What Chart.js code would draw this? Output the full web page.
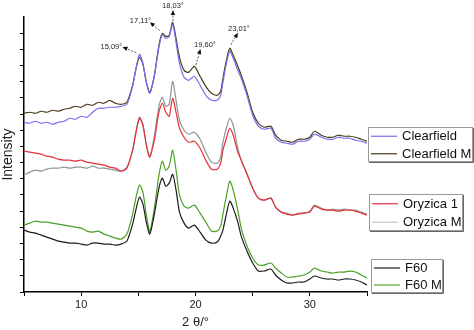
<!DOCTYPE html>
<html>
<head>
<meta charset="utf-8">
<script src="https://cdn.jsdelivr.net/npm/chart.js@4.4.1/dist/chart.umd.min.js"></script>
<style>
  html, body { margin: 0; padding: 0; background: #fff; }
</style>
</head>
<body>
<canvas id="xrd-chart" width="474" height="330"></canvas>
<script>
// 2 theta positions (degrees) the curves were read at
const twoTheta = [5, 5.5, 6, 6.5, 7, 7.5, 8, 8.5, 9, 9.5, 10, 10.5, 11, 11.5, 12, 12.5, 13, 13.5, 14,
    14.5, 14.8, 15.1, 15.4, 15.7, 16, 16.4, 16.8, 17.1, 17.4, 17.7, 18, 18.3, 18.6,
    19, 19.4, 19.9, 20.4, 20.9, 21.4, 21.9, 22.2, 22.4, 22.7, 23, 23.3, 23.7, 24,
    24.5, 25, 25.5, 26, 26.6, 27, 27.5, 28, 28.5, 29, 29.5, 30, 30.4,
    31, 31.5, 32, 32.5, 33, 33.5, 34, 34.5, 35];

// intensities (a.u., curves stacked with offsets as in the figure)
const clearfield = [170, 169, 171, 169, 170, 168, 170, 171, 174, 173, 176, 175, 180, 184, 184, 185, 185, 186, 188,
    206, 224, 238, 229, 210, 199, 216, 245, 258, 254, 256, 268, 250, 229,
    215, 212, 216, 207, 197, 192, 192, 197, 210, 229, 241, 234, 222, 214,
    197, 177, 166, 163, 164, 154, 150, 149, 148, 151, 151, 153, 158,
    155, 153, 153, 155, 154, 154, 152, 151, 149];
const clearfieldM = [179, 180, 179, 181, 180, 182, 181, 183, 184, 186, 185, 188, 187, 190, 189, 192, 189, 188, 190,
    207, 224, 235, 228, 210, 200, 217, 247, 259, 256, 257, 270, 254, 235,
    222, 220, 226, 216, 206, 199, 197, 201, 214, 232, 244, 237, 226, 217,
    200, 180, 169, 165, 166, 157, 152, 151, 150, 153, 153, 155, 161,
    157, 155, 155, 157, 156, 156, 155, 153, 151];
const oryzica1 = [141, 140, 139, 138, 136, 135, 133, 132, 132, 131, 132, 130, 129, 128, 127, 125, 124, 121, 124,
    142, 160, 174, 167, 147, 135, 152, 180, 189, 180, 176, 194, 180, 164,
    155, 150, 151, 144, 132, 123, 123, 129, 142, 154, 164, 157, 140, 132,
    118, 104, 94, 92, 94, 85, 80, 78, 77, 78, 79, 80, 86,
    83, 82, 82, 81, 82, 82, 81, 79, 77];
const oryzicaM = [117, 120, 122, 121, 123, 124, 124, 125, 124, 125, 125, 124, 126, 124, 124, 123, 122, 121, 125,
    142, 161, 175, 168, 148, 136, 156, 186, 195, 186, 188, 211, 192, 172,
    162, 158, 160, 153, 140, 130, 129, 135, 150, 164, 174, 167, 144, 132,
    119, 104, 94, 92, 94, 85, 80, 79, 77, 79, 79, 81, 87,
    84, 82, 83, 82, 83, 82, 82, 80, 78];
const f60 = [62, 60, 59, 57, 55, 53, 51, 50, 49, 49, 48, 47, 49, 49, 48, 48, 47, 48, 51,
    68, 83, 95, 88, 70, 58, 78, 104, 114, 106, 109, 118, 102, 80,
    69, 64, 67, 60, 52, 49, 50, 56, 62, 78, 91, 84, 70, 56,
    41, 29, 21, 21, 23, 17, 12, 9, 9, 10, 10, 13, 16,
    14, 13, 13, 12, 13, 13, 12, 10, 7];
const f60M = [67, 69, 71, 70, 70, 69, 68, 67, 66, 65, 64, 61, 60, 61, 58, 56, 54, 53, 58,
    78, 95, 107, 100, 77, 61, 84, 117, 131, 122, 126, 142, 122, 97,
    86, 84, 87, 79, 70, 61, 61, 66, 78, 96, 111, 102, 82, 64,
    46, 34, 27, 27, 29, 24, 19, 15, 15, 16, 17, 20, 24,
    21, 20, 19, 20, 20, 21, 20, 17, 14];

const seriesNames = ['Clearfield', 'Clearfield M', 'Oryzica 1', 'Oryzica M', 'F60', 'F60 M'];
const seriesValues = [clearfield, clearfieldM, oryzica1, oryzicaM, f60, f60M];
const seriesColors = ['#7b6cf0', '#4a3a14', '#e8303a', '#8c9696', '#1c1c1c', '#4c9e26'];
const legendColors = ['#7b6cf0', '#4a3a14', '#e8303a', '#c4c4c4', '#1c1c1c', '#5aa832'];

const peakAngles = [15.09, 17.11, 18.03, 19.60, 23.01];
const peakLabels = ['15,09°', '17,11°', '18,03°', '19,60°', '23,01°'];
const xTickLabels = [10, 20, 30];
const yTickStep = 16.2;   // unlabelled intensity ticks
const yTickCount = 17;

function valueAt(series, x) {
    for (let i = 1; i < twoTheta.length; i++) {
        if (twoTheta[i] >= x) {
            const t = (x - twoTheta[i - 1]) / (twoTheta[i] - twoTheta[i - 1]);
            return series[i - 1] + t * (series[i] - series[i - 1]);
        }
    }
    return series[series.length - 1];
}

// label offsets and arrow ends, in px, relative to the peak
const peakLayout = [
    { lx: -28, ly: -11, sx: -3, sy: -5, ex: -15, ey: -10 },
    { lx: -22, ly: -13, sx: -3, sy: -3, ex: -11, ey: -10 },
    { lx: 0, ly: -18, sx: 0, sy: -3, ex: 0, ey: -12 },
    { lx: 14, ly: -25, sx: 5, sy: -5, ex: 9, ey: -19 },
    { lx: 9, ly: -20, sx: 1, sy: -4, ex: 7, ey: -14 }
];

const peakPlugin = {
    id: 'peaks',
    afterDatasetsDraw(chart) {
        const { ctx, scales: { x, y } } = chart;
        ctx.save();
        ctx.font = '7.5px "Liberation Sans", Arial, sans-serif';
        ctx.textAlign = 'center';
        ctx.textBaseline = 'middle';
        peakAngles.forEach((deg, i) => {
            const px = x.getPixelForValue(deg);
            const py = y.getPixelForValue(valueAt(clearfieldM, deg));
            const l = peakLayout[i];
            const x0 = px + l.sx, y0 = py + l.sy, x1 = px + l.ex, y1 = py + l.ey;
            ctx.strokeStyle = '#333';
            ctx.lineWidth = 0.8;
            ctx.setLineDash([2, 1.5]);
            ctx.beginPath();
            ctx.moveTo(x0, y0);
            ctx.lineTo(x1, y1);
            ctx.stroke();
            ctx.setLineDash([]);
            const a = Math.atan2(y1 - y0, x1 - x0);
            ctx.fillStyle = '#111';
            ctx.beginPath();
            ctx.moveTo(x1 + Math.cos(a) * 2, y1 + Math.sin(a) * 2);
            ctx.lineTo(x1 - Math.cos(a) * 3 + Math.sin(a) * 2.2, y1 - Math.sin(a) * 3 - Math.cos(a) * 2.2);
            ctx.lineTo(x1 - Math.cos(a) * 3 - Math.sin(a) * 2.2, y1 - Math.sin(a) * 3 + Math.cos(a) * 2.2);
            ctx.closePath();
            ctx.fill();
            ctx.fillStyle = '#222';
            ctx.fillText(peakLabels[i], px + l.lx, py + l.ly);
        });
        ctx.restore();
    }
};

// three separate legend boxes, one per sample pair
const legendBoxes = [
    { items: [0, 1], left: 368, top: 127, width: 105, height: 35 },
    { items: [2, 3], left: 369, top: 194, width: 94, height: 37 },
    { items: [4, 5], left: 371, top: 259, width: 72, height: 34 }
];

const boxLegendPlugin = {
    id: 'boxLegend',
    afterDraw(chart) {
        const ctx = chart.ctx;
        ctx.save();
        legendBoxes.forEach(b => {
            ctx.fillStyle = '#fff';
            ctx.fillRect(b.left, b.top, b.width, b.height);
            ctx.strokeStyle = '#9a9a9a';
            ctx.lineWidth = 1;
            ctx.strokeRect(b.left + 0.5, b.top + 0.5, b.width - 1, b.height - 1);
            ctx.strokeStyle = '#666';
            ctx.beginPath();
            ctx.moveTo(b.left + b.width + 0.5, b.top + 1);
            ctx.lineTo(b.left + b.width + 0.5, b.top + b.height + 0.5);
            ctx.lineTo(b.left + 1, b.top + b.height + 0.5);
            ctx.stroke();
            const rowH = b.height / 2;
            b.items.forEach((idx, r) => {
                const cy = b.top + rowH * (r + 0.5) + 0.5;
                ctx.strokeStyle = legendColors[idx];
                ctx.lineWidth = 1.2;
                ctx.beginPath();
                ctx.moveTo(b.left + 3, cy);
                ctx.lineTo(b.left + 29, cy);
                ctx.stroke();
                ctx.fillStyle = '#111';
                ctx.font = '13px "Liberation Sans", Arial, sans-serif';
                ctx.textBaseline = 'middle';
                ctx.fillText(seriesNames[idx], b.left + 34, cy + 0.5);
            });
        });
        ctx.restore();
    }
};

const datasets = seriesNames.map((name, i) => ({
    label: name,
    data: twoTheta.map((t, k) => ({ x: t, y: seriesValues[i][k] })),
    borderColor: seriesColors[i],
    borderWidth: 1.2,
    pointRadius: 0,
    tension: 0.25,
    fill: false
}));

const ctx = document.getElementById('xrd-chart').getContext('2d');
const xrdChart = new Chart(ctx, {
    type: 'line',
    data: { datasets: datasets },
    options: {
        responsive: false,
        animation: false,
        layout: {
            padding: { left: 0, right: 107, top: 17, bottom: 0 }
        },
        plugins: {
            legend: { display: false },
            tooltip: { enabled: false }
        },
        scales: {
            x: {
                type: 'linear',
                min: 5,
                max: 35,
                afterFit: scale => { scale.height = 38; },
                border: { display: true, color: '#000', width: 1.5 },
                grid: { drawOnChartArea: false, drawTicks: true, tickLength: 4, tickColor: '#000' },
                ticks: {
                    stepSize: 5,
                    autoSkip: false,
                    maxRotation: 0,
                    padding: 2,
                    color: '#222',
                    font: { family: '"Liberation Sans", Arial, sans-serif', size: 11 },
                    callback: v => xTickLabels.includes(v) ? String(v) : ''
                },
                title: {
                    display: true,
                    text: '2 θ/°',
                    color: '#222',
                    padding: { top: 0, bottom: 0 },
                    font: { family: '"Liberation Sans", Arial, sans-serif', size: 13 }
                }
            },
            y: {
                min: 0,
                max: yTickStep * yTickCount,
                afterFit: scale => { scale.width = 24; },
                afterBuildTicks: scale => {
                    scale.ticks = [];
                    for (let i = 0; i < yTickCount; i++) scale.ticks.push({ value: i * yTickStep });
                },
                border: { display: true, color: '#000', width: 1.5 },
                grid: { drawOnChartArea: false, drawTicks: true, tickLength: 4, tickColor: '#000' },
                ticks: { display: false },
                title: {
                    display: true,
                    text: 'Intensity',
                    color: '#222',
                    padding: { top: 0, bottom: 0 },
                    font: { family: '"Liberation Sans", Arial, sans-serif', size: 14 }
                }
            }
        }
    },
    plugins: [peakPlugin, boxLegendPlugin]
});
</script>
</body>
</html>
